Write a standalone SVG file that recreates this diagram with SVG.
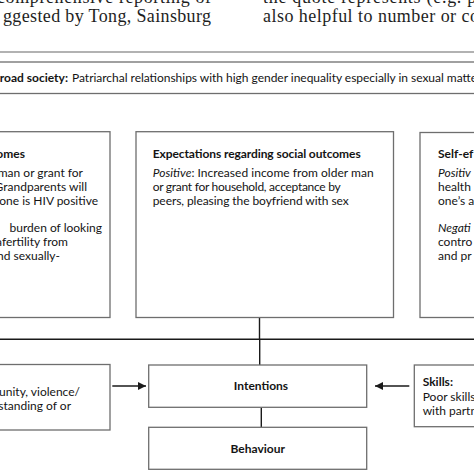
<svg xmlns="http://www.w3.org/2000/svg" width="474" height="474" viewBox="0 0 474 474">
<defs>
<style>
.bg{fill:#ffffff}
.box{fill:#ffffff;stroke:#6e6e6e;stroke-width:1.3}
.rule{stroke:#666666;stroke-width:1.2;fill:none}
.con{stroke:#1a1a1a;stroke-width:1.4;fill:none}
.t{font-family:Lato,"Liberation Sans",sans-serif;font-size:12px;fill:#141414}
.b{font-weight:bold}
.i{font-style:italic}
.serif{font-family:"Liberation Serif","DejaVu Serif",serif;font-size:18px;fill:#1e1e1e}
</style>
<marker id="ah" viewBox="0 0 10 10" refX="10" refY="5" markerWidth="8" markerHeight="8" markerUnits="userSpaceOnUse" orient="auto">
<path d="M0,0 L10,5 L0,10 z" fill="#1a1a1a"/>
</marker>
</defs>
<rect class="bg" x="0" y="0" width="474" height="474"/>

<g id="page-text">
<text class="serif" x="211" y="2.5" text-anchor="end" textLength="214">comprehensive reporting of</text>
<text class="serif" x="211" y="22" text-anchor="end" textLength="208">ggested by Tong, Sainsburg</text>
<text class="serif" x="263" y="2.5" textLength="222">the quote represents (e.g. pe</text>
<text class="serif" x="263" y="22" textLength="216">also helpful to number or co</text>
<line class="rule" x1="0" y1="52" x2="474" y2="52"/>
</g>

<g id="broad-society">
<rect class="box" x="-5" y="62" width="484" height="31.5"/>
<text class="t b" x="68" y="81.5" text-anchor="end">road society:</text>
<text class="t" x="72" y="81.5" textLength="405">Patriarchal relationships with high gender inequality especially in sexual matte</text>
</g>

<g id="connectors">
<line class="con" x1="259.5" y1="317.5" x2="259.5" y2="339.3"/>
<line class="con" x1="0" y1="339.3" x2="474" y2="339.3"/>
<line class="con" x1="259.7" y1="339.3" x2="259.7" y2="365"/>
<line class="con" x1="261.3" y1="407.3" x2="261.3" y2="427.3"/>
<line class="con" x1="112.3" y1="386" x2="146" y2="386" marker-end="url(#ah)"/>
<line class="con" x1="409.3" y1="386" x2="375" y2="386" marker-end="url(#ah)"/>
</g>

<g id="health-outcomes">
<rect class="box" x="-5" y="131.7" width="115" height="185.8"/>
<text class="t b" x="25" y="158" text-anchor="end">omes</text>
<text class="t" x="83" y="177" text-anchor="end">man or grant for</text>
<text class="t" x="87" y="191" text-anchor="end">Grandparents will</text>
<text class="t" x="98" y="205" text-anchor="end">one is HIV positive</text>
<text class="t" x="102" y="232" text-anchor="end">burden of looking</text>
<text class="t" x="68" y="246" text-anchor="end">afertility from</text>
<text class="t" x="60" y="260" text-anchor="end">nd sexually-</text>
</g>

<g id="social-outcomes">
<rect class="box" x="136" y="131.7" width="257.5" height="185.8"/>
<text class="t b" x="152.7" y="158" textLength="208">Expectations regarding social outcomes</text>
<text class="t" x="152.7" y="177" textLength="221"><tspan class="i">Positive</tspan>: Increased income from older man</text>
<text class="t" x="152.7" y="191" textLength="188">or grant for household, acceptance by</text>
<text class="t" x="152.7" y="205" textLength="196">peers, pleasing the boyfriend with sex</text>
</g>

<g id="self-efficacy">
<rect class="box" x="420" y="132.5" width="60" height="185"/>
<text class="t b" x="438" y="158">Self-ef</text>
<text class="t i" x="438" y="177">Positiv</text>
<text class="t" x="438" y="191">health</text>
<text class="t" x="438" y="205">one’s a</text>
<text class="t i" x="438" y="232">Negati</text>
<text class="t" x="438" y="246">contro</text>
<text class="t" x="438" y="260">and pr</text>
</g>

<g id="community">
<rect class="box" x="-5" y="364.5" width="115" height="65.5"/>
<text class="t" x="80" y="395.5" text-anchor="end">aunity, violence/</text>
<text class="t" x="71" y="410" text-anchor="end">standing of or</text>
</g>

<g id="intentions">
<rect class="box" x="148.7" y="365" width="218" height="42.3"/>
<text class="t b" x="261" y="390" text-anchor="middle">Intentions</text>
</g>

<g id="behaviour">
<rect class="box" x="148.7" y="427.3" width="218" height="42"/>
<text class="t b" x="257.7" y="453" text-anchor="middle">Behaviour</text>
</g>

<g id="skills">
<rect class="box" x="414.3" y="365" width="70" height="61.7"/>
<text class="t b" x="422.7" y="386">Skills:</text>
<text class="t" x="422.7" y="401">Poor skills</text>
<text class="t" x="422.7" y="415">with partn</text>
</g>
</svg>
